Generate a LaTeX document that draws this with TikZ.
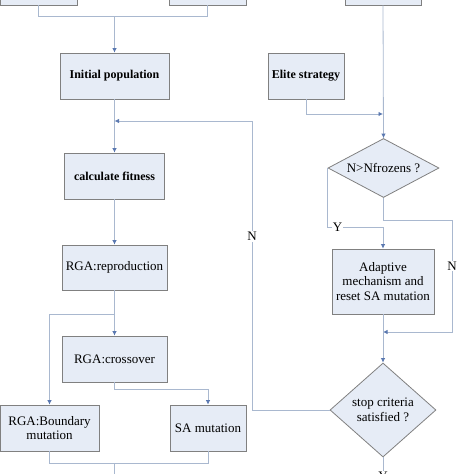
\documentclass[tikz,border=0pt]{standalone}
\usepackage{fontspec}
\setmainfont{Liberation Serif}
\usetikzlibrary{arrows.meta,positioning,shapes.geometric}

\definecolor{boxfill}{HTML}{E6ECF6}
\definecolor{boxline}{HTML}{808080}
\definecolor{wire}{HTML}{A9B8CF}
\definecolor{tipblue}{HTML}{5A78B0}

\begin{document}
\begin{tikzpicture}[
  x=1pt, y=-1pt,
  font=\fontsize{13}{14.5}\selectfont,
  box/.style={rectangle, draw=boxline, fill=boxfill, line width=0.8pt, align=center,
              inner sep=1pt},
  strong/.style={box, font=\fontsize{12}{14}\selectfont\bfseries},
  test/.style={diamond, draw=boxline, fill=boxfill, line width=0.8pt, align=center,
               inner sep=0pt, aspect=1.9},
  wire/.style={draw=wire, line width=0.8pt},
  arr/.style={wire, -{Latex[length=4.5pt, width=4.5pt, color=tipblue]}},
  lbl/.style={inner sep=1pt, fill=white}
]
\useasboundingbox (0,0) rectangle (474,474);

% top boxes, cut by the page edge
\node[box, minimum width=77pt, minimum height=40pt] (topa) at (38.5,-15) {};
\node[box, minimum width=77pt, minimum height=40pt] (topb) at (207.5,-15) {};
\node[box, minimum width=76pt, minimum height=40pt] (topc) at (383,-15) {};

% left column
\node[strong, minimum width=109pt, minimum height=46pt] (init) at (114.5,76) {Initial population};
\node[strong, minimum width=100pt, minimum height=46pt] (fit) at (114.5,176) {calculate fitness};
\node[box, minimum width=105pt, minimum height=45pt] (repro) at (114.5,267.5) {RGA:reproduction};
\node[box, minimum width=105pt, minimum height=46pt] (cross) at (114.5,359) {RGA:crossover};
\node[box, minimum width=99pt, minimum height=46pt] (bound) at (49.5,428) {RGA:Boundary\\mutation};
\node[box, minimum width=76pt, minimum height=46pt] (samut) at (208,428) {SA mutation};

% right column
\node[strong, minimum width=76pt, minimum height=46pt] (elite) at (306,76) {Elite strategy};
\node[test, minimum width=111pt, minimum height=59pt] (frozen) at (383.5,168) {N>Nfrozens ?};
\node[box, minimum width=102pt, minimum height=65pt] (adapt) at (383,281.5) {Adaptive\\mechanism and\\reset SA mutation};
\node[test, minimum width=100pt, minimum height=94pt] (stop) at (383,410) {stop criteria\\satisfied ?};

% free ends
\coordinate (loopin) at (114.5,121);
\coordinate (merge) at (383,114);
\coordinate (join) at (383,332);
\coordinate (outend) at (383,480);
\coordinate (bottomend) at (114.5,480);

% connectors
\draw[wire] (topa.south) |- (207.5,16) -- (topb.south);
\draw[arr] (114.5,16) -- (init.north);
\draw[arr] (topc.south) -- (frozen.north);
\draw[arr] (elite.south) |- (merge);
\draw[arr] (init.south) -- (fit.north);
\draw[arr] (fit.south) -- (repro.north);
\draw[arr] (repro.south) -- (cross.north);
\draw[arr] (repro.south) ++(0,24) -| (bound.north);
\draw[arr] (cross.south) -- ++(0,7) -| (samut.north);
\draw[wire] (bound.south) -- ++(0,12) -| (samut.south);
\draw[wire] (bottomend |- 0,463) -- (bottomend);

\draw[arr] (frozen.west) |- (383,227) node[pos=0.59, lbl] {Y} -- (adapt.north);
\draw[arr] (frozen.south) |- (452,220) |- (join) node[pos=0.205, lbl] {N};
\draw[arr] (adapt.south) -- (stop.north);
\draw[arr] (stop.west) -| (252,121) node[pos=0.8, lbl] {N} -- (loopin);
\draw[wire] (stop.south) -- (outend) node[pos=0.85, lbl] {Y};
\end{tikzpicture}
\end{document}
